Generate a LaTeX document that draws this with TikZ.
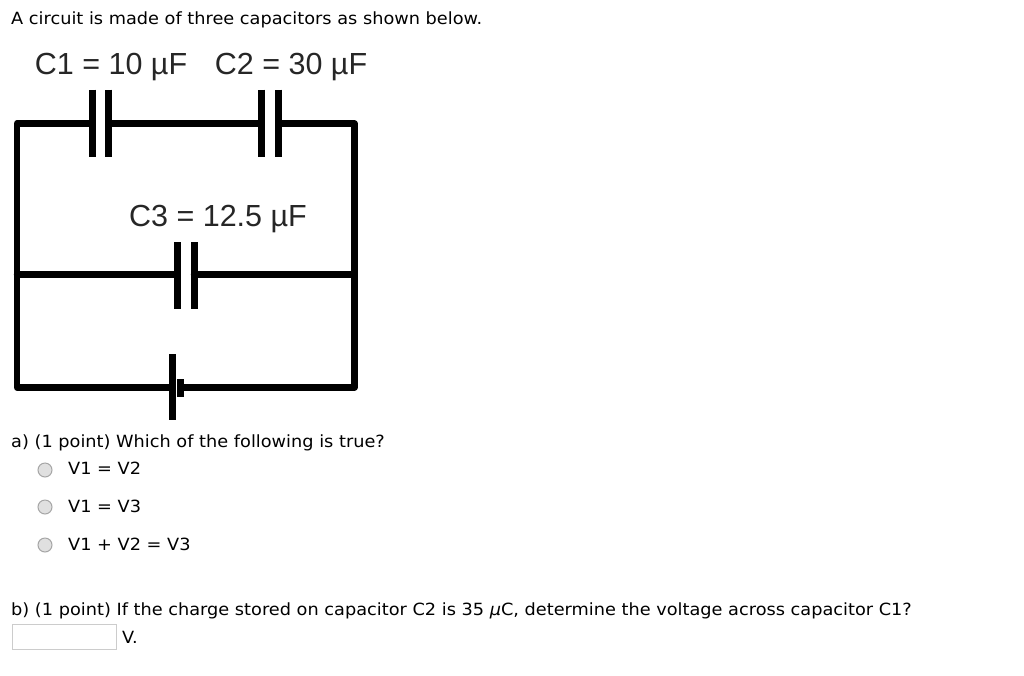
\documentclass[tikz,border=0pt]{standalone}
\usepackage{fontspec}
\setmainfont[FakeStretch=1.055]{DejaVu Sans}
\newfontfamily\labelfont{Liberation Sans}

\tikzset{
  wire/.style={line width=6.5pt,line cap=round,line join=round},
  plate/.style={line width=7pt},
  txt/.style={anchor=base west,inner sep=0pt,font=\fontsize{16.8}{18}\selectfont},
  lbl/.style={anchor=base,inner sep=0pt,text=black!85,font=\labelfont\fontsize{30.5}{32}\selectfont},
  radio/.style={circle,draw=black!35,fill=black!12,line width=1pt,minimum size=14pt,inner sep=0pt}
}

\begin{document}
\begin{tikzpicture}[x=1pt,y=-1pt]
\useasboundingbox (0,0) rectangle (1024,675);
\fill[white] (0,0) rectangle (1024,675);
\node[txt] (title) at (11,24) {A circuit is made of three capacitors as shown below.};
\node[lbl] (cone) at (111,74) {C1 = 10 µF};
\node[lbl] (ctwo) at (291,74) {C2 = 30 µF};
\node[lbl] (cthree) at (218,226) {C3 = 12.5 µF};
% corners of the circuit
\coordinate (tl) at (17,123.5);
\coordinate (tr) at (354.5,123.5);
\coordinate (ml) at (17,274.5);
\coordinate (mr) at (354.5,274.5);
\coordinate (bl) at (17,387.5);
\coordinate (br) at (354.5,387.5);
% top branch
\draw[wire] (92.5,123.5) -- (tl) -- (bl) -- (172,387.5);
\draw[wire] (108.5,123.5) -- (261.5,123.5);
\draw[wire] (278.5,123.5) -- (tr) -- (br) -- (180.5,387.5);
\draw[plate] (92.5,89.5) -- (92.5,156.5);
\draw[plate] (108.5,89.5) -- (108.5,156.5);
\draw[plate] (261.5,89.5) -- (261.5,156.5);
\draw[plate] (278.5,89.5) -- (278.5,156.5);
% middle branch
\draw[wire] (ml) -- (177,274.5);
\draw[wire] (194,274.5) -- (mr);
\draw[plate] (177,242) -- (177,309);
\draw[plate] (194,242) -- (194,309);
% battery
\draw[plate] (172,354) -- (172,420);
\draw[line width=7pt] (180.5,379) -- (180.5,397);
% part a
\node[txt] (parta) at (11,447) {a) (1 point) Which of the following is true?};
\foreach \name/\y/\base/\txt in {one/470/474.5/V1 = V2,two/507/512.5/V1 = V3,three/545/550.5/V1 + V2 = V3}{
  \node[radio] (radio\name) at (45,\y) {};
  \node[txt] (option\name) at (68,\base) {\txt};
}
% part b
\node[txt] (partb) at (11,615) {b) (1 point) If the charge stored on capacitor C2 is 35 \textit{µ}C, determine the voltage across capacitor C1?};
\node[draw=black!20,line width=1pt,minimum width=104pt,minimum height=25pt,inner sep=0pt] (answer) at (64,636.5) {};
\node[txt] (unit) at (122,643) {V.};
\end{tikzpicture}
\end{document}
